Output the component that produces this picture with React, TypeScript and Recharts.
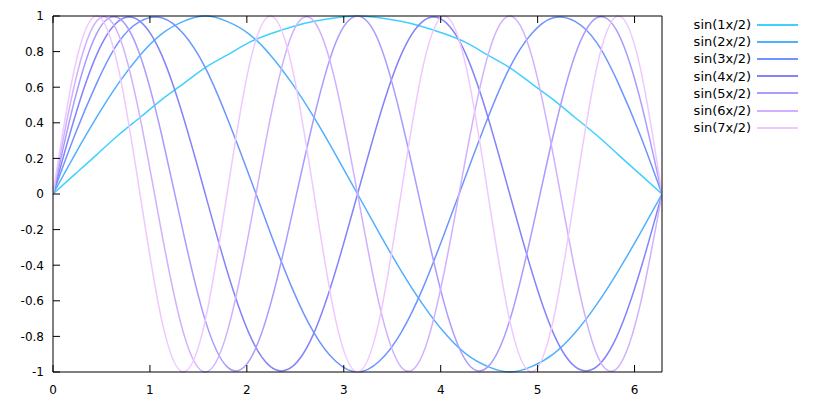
import React from "react";
import { LineChart, Line, XAxis, YAxis, Legend } from "recharts";

// x sample positions (0 .. 2π, step π/14)
const xs = [
  0, 0.224, 0.449, 0.673, 0.898, 1.122, 1.346, 1.571, 1.795, 2.02, 2.244, 2.468, 2.693, 2.917, 3.142,
  3.366, 3.59, 3.815, 4.039, 4.264, 4.488, 4.712, 4.937, 5.161, 5.386, 5.61, 5.834, 6.059, 6.283,
];

const sin1 = [0, 0.11, 0.22, 0.33, 0.43, 0.53, 0.62, 0.71, 0.78, 0.85, 0.9, 0.94, 0.97, 0.99, 1, 0.99, 0.97, 0.94, 0.9, 0.85, 0.78, 0.71, 0.62, 0.53, 0.43, 0.33, 0.22, 0.11, 0];
const sin2 = [0, 0.22, 0.43, 0.62, 0.78, 0.9, 0.97, 1, 0.97, 0.9, 0.78, 0.62, 0.43, 0.22, 0, -0.22, -0.43, -0.62, -0.78, -0.9, -0.97, -1, -0.97, -0.9, -0.78, -0.62, -0.43, -0.22, 0];
const sin3 = [0, 0.33, 0.62, 0.85, 0.97, 0.99, 0.9, 0.71, 0.43, 0.11, -0.22, -0.53, -0.78, -0.94, -1, -0.94, -0.78, -0.53, -0.22, 0.11, 0.43, 0.71, 0.9, 0.99, 0.97, 0.85, 0.62, 0.33, 0];
const sin4 = [0, 0.43, 0.78, 0.97, 0.97, 0.78, 0.43, 0, -0.43, -0.78, -0.97, -0.97, -0.78, -0.43, 0, 0.43, 0.78, 0.97, 0.97, 0.78, 0.43, 0, -0.43, -0.78, -0.97, -0.97, -0.78, -0.43, 0];
const sin5 = [0, 0.53, 0.9, 0.99, 0.78, 0.33, -0.22, -0.71, -0.97, -0.94, -0.62, -0.11, 0.43, 0.85, 1, 0.85, 0.43, -0.11, -0.62, -0.94, -0.97, -0.71, -0.22, 0.33, 0.78, 0.99, 0.9, 0.53, 0];
const sin6 = [0, 0.62, 0.97, 0.9, 0.43, -0.22, -0.78, -1, -0.78, -0.22, 0.43, 0.9, 0.97, 0.62, 0, -0.62, -0.97, -0.9, -0.43, 0.22, 0.78, 1, 0.78, 0.22, -0.43, -0.9, -0.97, -0.62, 0];
const sin7 = [0, 0.71, 1, 0.71, 0, -0.71, -1, -0.71, 0, 0.71, 1, 0.71, 0, -0.71, -1, -0.71, 0, 0.71, 1, 0.71, 0, -0.71, -1, -0.71, 0, 0.71, 1, 0.71, 0];

const seriesNames = ["sin(1x/2)", "sin(2x/2)", "sin(3x/2)", "sin(4x/2)", "sin(5x/2)", "sin(6x/2)", "sin(7x/2)"];
const seriesColors = ["#40d0ff", "#50b0ff", "#7094ff", "#8484fa", "#a99cff", "#d0b0ff", "#efc8ff"];
const seriesValues = [sin1, sin2, sin3, sin4, sin5, sin6, sin7];

const xTicks = [0, 1, 2, 3, 4, 5, 6];
const yTicks = [-1, -0.8, -0.6, -0.4, -0.2, 0, 0.2, 0.4, 0.6, 0.8, 1];
const yTickLabels = ["-1", "-0.8", "-0.6", "-0.4", "-0.2", "0", "0.2", "0.4", "0.6", "0.8", "1"];

const data = xs.map((x, i) => {
  const row: Record<string, number> = { x };
  seriesValues.forEach((s, k) => {
    row[`s${k + 1}`] = s[i];
  });
  return row;
});

const FONT = "'DejaVu Sans', sans-serif";
const TICK = 7;

const BottomTick = (props: any) => {
  const { x, y, payload } = props;
  return (
    <g>
      <line x1={x} y1={y} x2={x} y2={y - TICK} stroke="#000" strokeWidth={1} />
      <text x={x} y={y + 22} textAnchor="middle" fontFamily={FONT} fontSize={12} fill="#000">
        {payload.value}
      </text>
    </g>
  );
};
const TopTick = (props: any) => {
  const { x, y } = props;
  return <line x1={x} y1={y} x2={x} y2={y + TICK} stroke="#000" strokeWidth={1} />;
};
const LeftTick = (props: any) => {
  const { x, y, payload } = props;
  const label = yTickLabels[yTicks.indexOf(payload.value)] ?? String(payload.value);
  return (
    <g>
      <line x1={x} y1={y} x2={x + TICK} y2={y} stroke="#000" strokeWidth={1} />
      <text x={x - 9} y={y} dy="0.36em" textAnchor="end" fontFamily={FONT} fontSize={12} fill="#000">
        {label}
      </text>
    </g>
  );
};
const RightTick = (props: any) => {
  const { x, y } = props;
  return <line x1={x} y1={y} x2={x - TICK} y2={y} stroke="#000" strokeWidth={1} />;
};

const LegendContent = (props: any) => {
  const { payload } = props;
  return (
    <div style={{ fontFamily: FONT, fontSize: 13, color: "#000", width: 130 }}>
      {(payload || []).map((e: any) => (
        <div key={e.value} style={{ display: "flex", alignItems: "center", height: 17.2 }}>
          <span style={{ flex: "none", width: 71, textAlign: "right", whiteSpace: "nowrap" }}>{e.value}</span>
          <span style={{ flex: "none", width: 41, height: 0, borderTop: `2px solid ${e.color}`, marginLeft: 6 }} />
        </div>
      ))}
    </div>
  );
};

export default function App() {
  return (
    <div style={{ position: "absolute", left: 0, top: 0, background: "#fff" }}>
      <LineChart
        width={813}
        height={406}
        data={data}
        margin={{ top: 15, right: 150, bottom: 33, left: 52 }}
      >
        <XAxis
          dataKey="x"
          type="number"
          domain={[0, 6.2832]}
          ticks={xTicks}
          allowDataOverflow
          height={1}
          tickSize={0}
          tickMargin={0}
          tickLine={false}
          axisLine={{ stroke: "#000" }}
          tick={<BottomTick />}
          interval={0}
        />
        <XAxis
          xAxisId="top"
          orientation="top"
          dataKey="x"
          type="number"
          domain={[0, 6.2832]}
          ticks={xTicks}
          allowDataOverflow
          height={1}
          tickSize={0}
          tickMargin={0}
          tickLine={false}
          axisLine={{ stroke: "#000" }}
          tick={<TopTick />}
          interval={0}
        />
        <YAxis
          type="number"
          domain={[-1, 1]}
          ticks={yTicks}
          width={1}
          tickSize={0}
          tickMargin={0}
          tickLine={false}
          axisLine={{ stroke: "#000" }}
          tick={<LeftTick />}
          interval={0}
        />
        <YAxis
          yAxisId="right"
          orientation="right"
          type="number"
          domain={[-1, 1]}
          ticks={yTicks}
          width={1}
          tickSize={0}
          tickMargin={0}
          tickLine={false}
          axisLine={{ stroke: "#000" }}
          tick={<RightTick />}
          interval={0}
        />
        <Legend
          layout="horizontal"
          verticalAlign="middle"
          align="center"
          content={<LegendContent />}
          wrapperStyle={{ position: "absolute", left: 680, top: 16, width: 130, height: 122 }}
        />
        {seriesNames.map((name, k) => (
          <Line
            key={name}
            dataKey={`s${k + 1}`}
            name={name}
            type="natural"
            stroke={seriesColors[k]}
            strokeWidth={1.5}
            dot={false}
            activeDot={false}
            isAnimationActive={false}
          />
        ))}
      </LineChart>
    </div>
  );
}
